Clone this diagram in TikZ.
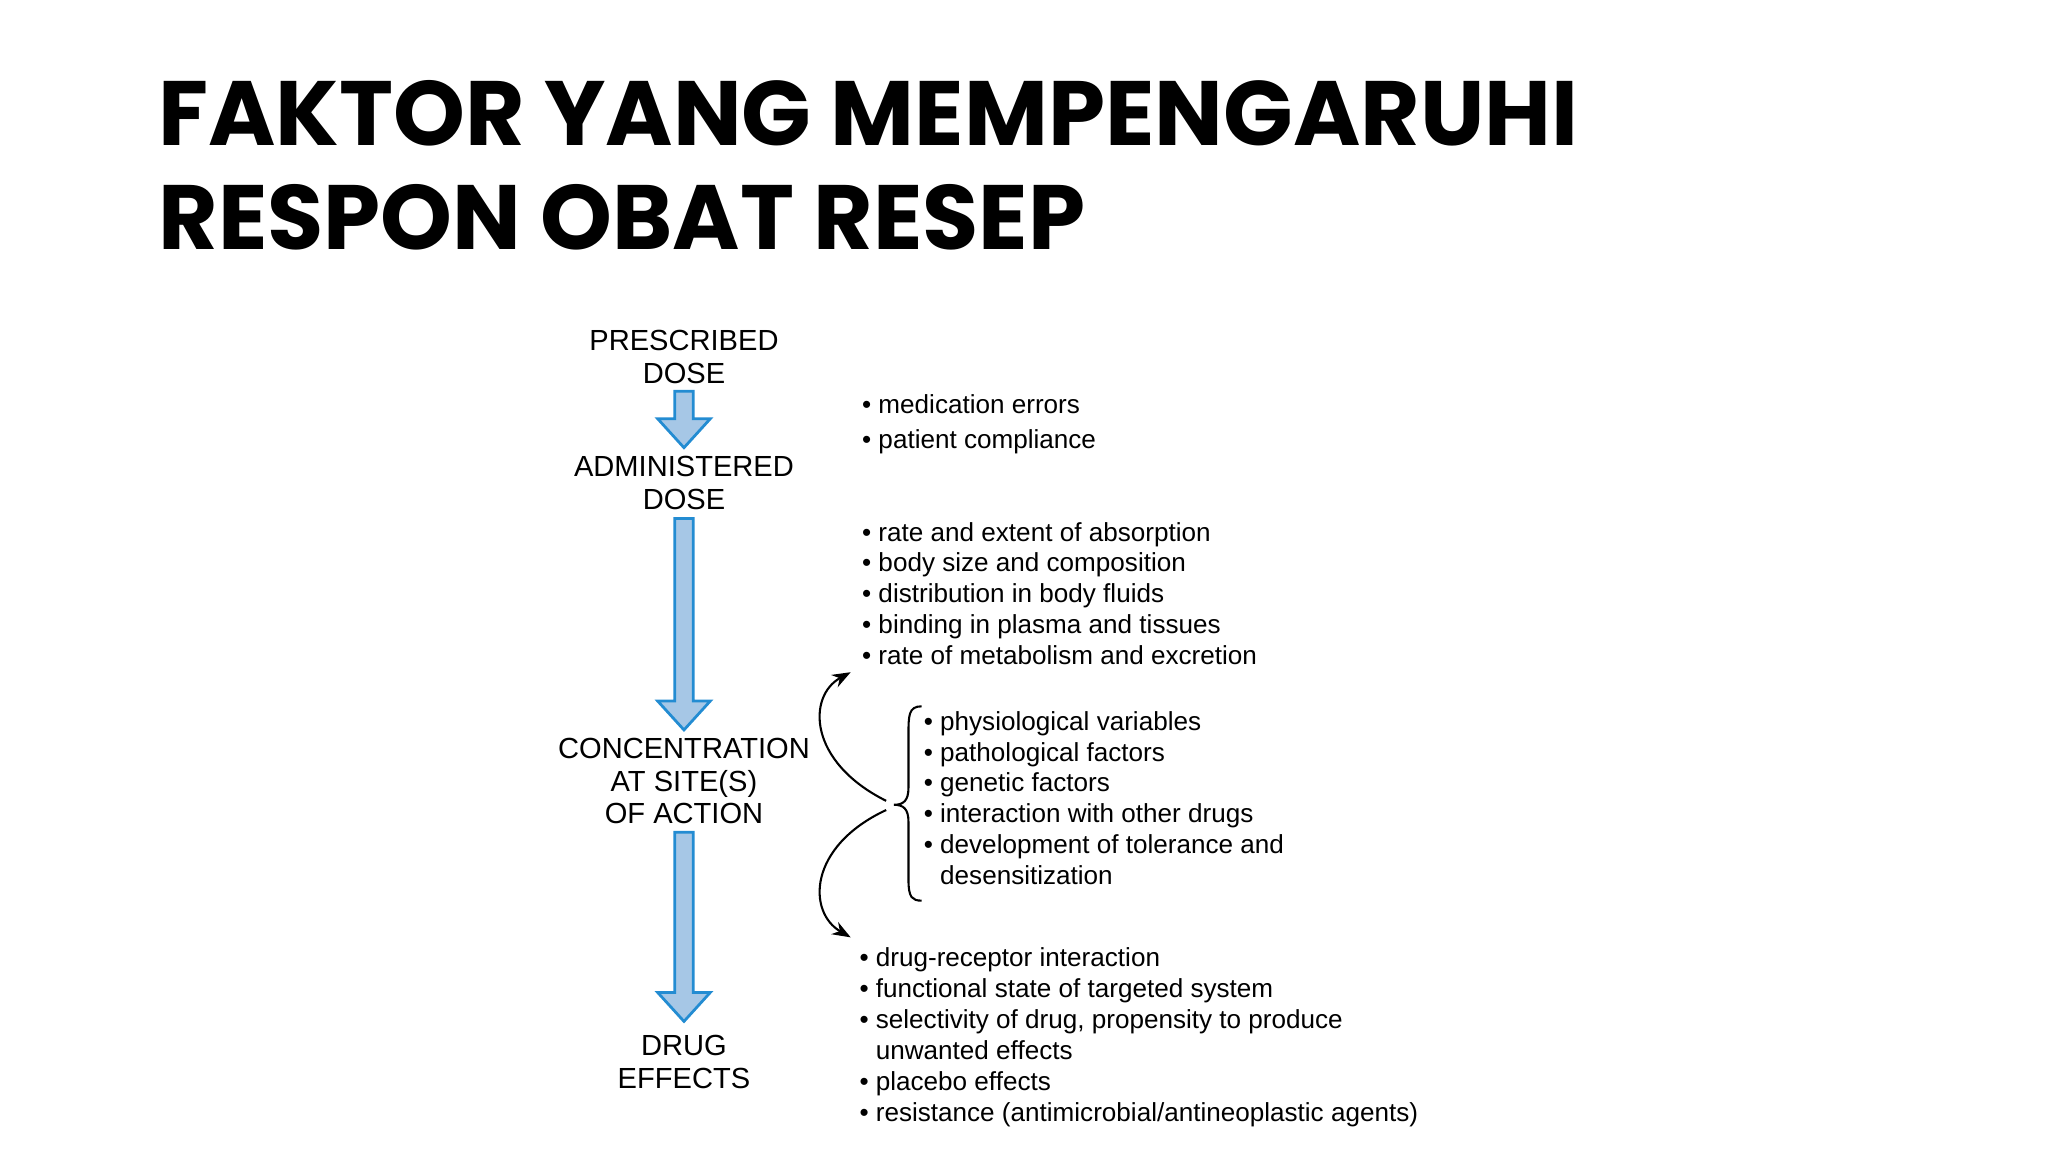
\documentclass[tikz,border=0pt]{standalone}
\usepackage{fontspec}
\setmainfont{Liberation Sans}
\newfontfamily\titlefont{Poppins}
\usetikzlibrary{arrows.meta,calc}
\definecolor{afill}{RGB}{166,199,230}
\definecolor{aline}{RGB}{35,140,210}
\tikzset{
  lbl/.style={align=center,font=\fontsize{6.3pt}{7.1pt}\selectfont,inner sep=0pt},
  items/.style={align=left,anchor=north west,font=\fontsize{5.65pt}{6.7pt}\selectfont,inner sep=0pt},
  curv/.style={-{Stealth[length=4pt,width=3pt]},line width=0.45pt}
}
\newcommand{\bigarrow}[2]{%
  \fill[afill,draw=aline,line width=0.6pt,line join=miter]
   ($(#1)+(-7,0)$) -- ($(#2)+(-7,-22)$) -- ($(#2)+(-20,-22)$) -- (#2) -- ($(#2)+(20,-22)$) -- ($(#2)+(7,-22)$) -- ($(#1)+(7,0)$) -- cycle;}
\newcommand{\bul}{\textbullet\ }
\begin{document}
\begin{tikzpicture}[x=0.01cm,y=-0.01cm]
\useasboundingbox (0,0) rectangle (1560,877.5);
\node[anchor=base west,inner sep=0pt,align=left,font=\titlefont\bfseries\fontsize{19.8pt}{22.5pt}\selectfont] (title) at (120,190) {FAKTOR YANG MEMPENGARUHI\\RESPON OBAT RESEP};
\node[lbl] (pd) at (521,272) {PRESCRIBED\\DOSE};
\node[lbl] (ad) at (521,368) {ADMINISTERED\\DOSE};
\node[lbl] (cs) at (521,595) {CONCENTRATION\\AT SITE(S)\\OF ACTION};
\node[lbl] (de) at (521,809) {DRUG\\EFFECTS};
\coordinate (a1t) at (521,298); \coordinate (a1b) at (521,341);
\coordinate (a2t) at (521,395); \coordinate (a2b) at (521,556);
\coordinate (a3t) at (521,634); \coordinate (a3b) at (521,778);
\bigarrow{a1t}{a1b}
\bigarrow{a2t}{a2b}
\bigarrow{a3t}{a3b}
\node[items] (g1) at (656,300) {\bul medication errors\\[0.8pt]\bul patient compliance};
\node[items] (g2) at (656,397) {\bul rate and extent of absorption\\\bul body size and composition\\\bul distribution in body fluids\\\bul binding in plasma and tissues\\\bul rate of metabolism and excretion};
\node[items] (g3) at (703,541) {\bul physiological variables\\\bul pathological factors\\\bul genetic factors\\\bul interaction with other drugs\\\bul development of tolerance and\\\phantom{\bul}desensitization};
\node[items] (g4) at (654,721) {\bul drug-receptor interaction\\\bul functional state of targeted system\\\bul selectivity of drug, propensity to produce\\\phantom{\bul}unwanted effects\\\bul placebo effects\\\bul resistance (antimicrobial/antineoplastic agents)};
\coordinate (bt) at (702,538); \coordinate (bb) at (702,686); \coordinate (bp) at (681,613);
\draw[line width=0.45pt] (bt) .. controls (692,538) and (692,545) .. (692,560) -- (692,600) .. controls (692,610) and (688,613) .. (bp) .. controls (688,613) and (692,616) .. (692,626) -- (692,670) .. controls (692,684) and (695,686) .. (bb);
\coordinate (u1) at (675,610); \coordinate (u2) at (648,512);
\coordinate (l1) at (675,617); \coordinate (l2) at (648,714);
\draw[curv] (u1) .. controls (615,580) and (615,530) .. (u2);
\draw[curv] (l1) .. controls (615,645) and (615,695) .. (l2);
\end{tikzpicture}
\end{document}
